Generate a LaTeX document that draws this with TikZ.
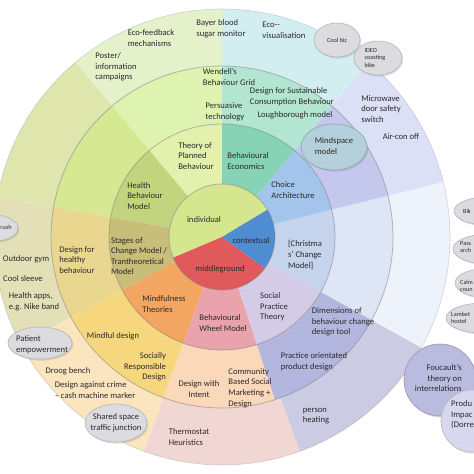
\documentclass[tikz,border=0pt]{standalone}
\usepackage{fontspec}
\setmainfont{Carlito}
\usetikzlibrary{shapes.geometric,shadows}
\definecolor{txt}{HTML}{2A2A2A}
\definecolor{cInd}{HTML}{D5E68E}
\definecolor{cCon}{HTML}{4F8CD2}
\definecolor{cMid}{HTML}{E05A5C}
\definecolor{ra1}{HTML}{E3F0AE}
\definecolor{ra2}{HTML}{C2D47E}
\definecolor{ra3}{HTML}{C9BD7A}
\definecolor{ra4}{HTML}{F3A562}
\definecolor{ra5}{HTML}{E9A3AC}
\definecolor{ra6}{HTML}{D4CBE6}
\definecolor{ra7}{HTML}{C5D4EC}
\definecolor{ra8}{HTML}{A3C5EB}
\definecolor{ra9}{HTML}{86D3B5}
\definecolor{rb1}{HTML}{DFF3B0}
\definecolor{rb2}{HTML}{D6E891}
\definecolor{rb3}{HTML}{EAD78F}
\definecolor{rb4}{HTML}{F7D77E}
\definecolor{rb5}{HTML}{FAD8B9}
\definecolor{rb6}{HTML}{B3B7DF}
\definecolor{rb7}{HTML}{DEE6F5}
\definecolor{rb8}{HTML}{C3C8EC}
\definecolor{rb9}{HTML}{B2E6D2}
\definecolor{rc1}{HTML}{E5F1CB}
\definecolor{rc2}{HTML}{DEE5AD}
\definecolor{rc3}{HTML}{E3DFB7}
\definecolor{rc4}{HTML}{FAE5BF}
\definecolor{rc5}{HTML}{F1D7D3}
\definecolor{rc6}{HTML}{CBCBE3}
\definecolor{rc7}{HTML}{EEF3FB}
\definecolor{rc8}{HTML}{DBE0F6}
\definecolor{rc9}{HTML}{D3EEF0}
\definecolor{bubfill}{HTML}{DCDCE0}
\definecolor{bubedge}{HTML}{B4B4BA}
\definecolor{mindfill}{HTML}{B4D0DA}
\definecolor{mindedge}{HTML}{8EA4B4}
\definecolor{foufill}{HTML}{B9BCDF}
\definecolor{prodfill}{HTML}{D7D7ED}
\newcommand\annsec[5]{%
  \fill[#1, shift={(222,237)}] ({-(#4)}:#2) arc[start angle={-(#4)}, end angle={-(#5)}, radius=#2]
    -- ({-(#5)}:#3) arc[start angle={-(#5)}, end angle={-(#4)}, radius=#3] -- cycle;}
\newcommand\piesec[4]{%
  \fill[#1, shift={(222,237)}] (0,0) -- ({-(#3)}:#2) arc[start angle={-(#3)}, end angle={-(#4)}, radius=#2] -- cycle;}
\begin{document}
\begin{tikzpicture}[x=1pt,y=-1pt,
  lbl/.style={font=\fontsize{8.6}{10.6}\selectfont, text=txt, inner sep=0pt, align=left},
  sml/.style={font=\fontsize{6.2}{7.6}\selectfont, text=txt, inner sep=0pt, align=left},
  bub/.style={ellipse, draw=bubedge, fill=bubfill, line width=0.6pt, inner sep=0pt,
    drop shadow={shadow xshift=1.2pt, shadow yshift=-1.6pt, opacity=0.25}},
  ringline/.style={line width=0.8pt, draw=gray, opacity=0.55}]
\useasboundingbox (0,0) rectangle (474,474);
\fill[white] (0,0) rectangle (474,474);
% outer ring
\annsec{rc1}{171}{228}{90}{130}
\annsec{rc2}{171}{228}{130}{170}
\annsec{rc3}{171}{228}{170}{208}
\annsec{rc4}{171}{228}{208}{250}
\annsec{rc5}{171}{228}{250}{290}
\annsec{rc6}{171}{228}{290}{331}
\annsec{rc7}{171}{228}{331}{374}
\annsec{rc8}{171}{228}{14}{50}
\annsec{rc9}{171}{228}{50}{90}
% middle ring
\annsec{rb1}{113}{171}{90}{130}
\annsec{rb2}{113}{171}{130}{170}
\annsec{rb3}{113}{171}{170}{208}
\annsec{rb4}{113}{171}{208}{250}
\annsec{rb5}{113}{171}{250}{288}
\annsec{rb6}{113}{171}{288}{331}
\annsec{rb7}{113}{171}{331}{374}
\annsec{rb8}{113}{171}{14}{50}
\annsec{rb9}{113}{171}{50}{90}
% inner ring
\annsec{ra1}{53}{113}{90}{130}
\annsec{ra2}{53}{113}{130}{170}
\annsec{ra3}{53}{113}{170}{208}
\annsec{ra4}{53}{113}{208}{250}
\annsec{ra5}{53}{113}{250}{288}
\annsec{ra6}{53}{113}{288}{331}
\annsec{ra7}{53}{113}{331}{374}
\annsec{ra8}{53}{113}{14}{50}
\annsec{ra9}{53}{113}{50}{90}
% core
\piesec{cInd}{53}{31}{203}
\piesec{cMid}{53}{203}{324}
\piesec{cCon}{53}{324}{391}
% ring lines
\draw[ringline] (222,237) circle[radius=53];
\draw[ringline] (222,237) circle[radius=113];
\draw[ringline] (222,237) circle[radius=171];
\draw[line width=0.6pt, draw=gray, opacity=0.3] (222,237) circle[radius=228];
% bubbles
\node[bub, minimum width=48pt, minimum height=26pt] (rushE) at (-6,228) {};
\node[bub, minimum width=46pt, minimum height=34pt] (coolE) at (337,40) {};
\node[bub, minimum width=48pt, minimum height=34pt] (ideoE) at (378,58) {};
\node[bub, fill=mindfill, draw=mindedge, minimum width=66pt, minimum height=46pt] (mindE) at (334,147) {};
\node[bub, minimum width=64pt, minimum height=32pt] (patE) at (40,343) {};
\node[bub, minimum width=62pt, minimum height=38pt] (shareE) at (116,423) {};
\node[bub, minimum width=68pt, minimum height=28pt] (bikE) at (488,211) {};
\node[bub, minimum width=66pt, minimum height=29pt] (passE) at (486,249) {};
\node[bub, minimum width=64pt, minimum height=29pt] (calmE) at (487,283) {};
\node[bub, minimum width=76pt, minimum height=30pt] (lambE) at (484,318) {};
\node[bub, circle, fill=foufill, draw=foufill!80!black, minimum size=72pt] (fouC) at (440,380) {};
\node[bub, circle, fill=prodfill, draw=prodfill!85!black, minimum size=62pt] (prodC) at (472,421) {};
% core labels
\node[lbl] (lInd) at (204,220) {individual};
\node[lbl] (lCon) at (251,241) {contextual};
\node[lbl] (lMid) at (220,269) {middleground};
% inner ring labels
\node[lbl] (tpb) at (196,156) {Theory of\\Planned\\Behaviour};
\node[lbl] (beco) at (248,161) {Behavioural\\Economics};
\node[lbl] (choice) at (293,190) {Choice\\Architecture};
\node[lbl] (xmas) at (305,255) {[Christma\\s' Change\\Model]};
\node[lbl] (spt) at (274,307) {Social\\Practice\\Theory};
\node[lbl] (bwm) at (223,323) {Behavioural\\Wheel Model};
\node[lbl] (mind) at (164,304) {Mindfulness\\Theories};
\node[lbl] (stages) at (139,256) {Stages of\\Change Model /\\Trantheoretical\\Model};
\node[lbl] (hbm) at (145,196) {Health\\Behaviour\\Model};
% middle ring labels
\node[lbl] (wend) at (229,77) {Wendell's\\Behaviour Grid};
\node[lbl] (dscb) at (292,97) {Design for Sustainable\\Consumption Behaviour};
\node[lbl] (pers) at (225,112) {Persuasive\\technology};
\node[lbl] (lough) at (295,115) {Loughborough model};
\node[lbl] (mindsp) at (334,146) {Mindspace\\model};
\node[lbl] (dim) at (343,322) {Dimensions of\\behaviour change\\design tool};
\node[lbl] (pod) at (314,362) {Practice orientated\\product design};
\node[lbl] (cbsm) at (250,388) {Community\\Based Social\\Marketing +\\Design};
\node[lbl, align=center] (dwi) at (199,389) {Design with\\Intent};
\node[lbl, align=right] (srd) at (145,367) {Socially\\Responsible\\Design};
\node[lbl] (mdes) at (113,336) {Mindful design};
\node[lbl] (dhb) at (77,260) {Design for\\healthy\\behaviour};
% outer ring labels
\node[lbl] (ecofb) at (151,38) {Eco-feedback\\mechanisms};
\node[lbl] (bayer) at (221,29) {Bayer blood\\sugar monitor};
\node[lbl] (poster) at (116,67) {Poster/\\information\\campaigns};
\node[lbl] (ecovis) at (284,30) {Eco-{}-\\visualisation};
\node[lbl] (micro) at (381,109) {Microwave\\door safety\\switch};
\node[lbl] (aircon) at (401,137) {Air-con off};
\node[lbl] (person) at (316,416) {person\\heating};
\node[lbl] (thermo) at (189,437) {Thermostat\\Heuristics};
\node[lbl] (droog) at (68,371) {Droog bench};
\node[lbl] (dac) at (95,390) {Design against crime\\-- cash machine marker};
\node[lbl] (gym) at (26,259) {Outdoor gym};
\node[lbl] (sleeve) at (23,279) {Cool sleeve};
\node[lbl] (apps) at (34,302) {Health apps,\\e.g. Nike band};
% bubble labels
\node[sml] (lrush) at (6,227) {rush};
\node[sml] (lcool) at (337,40) {Cool biz};
\node[sml] (lideo) at (375,58) {IDEO\\coasting\\bike};
\node[lbl] (lpat) at (42,345) {Patient\\empowerment};
\node[lbl, align=center] (lshare) at (116,423) {Shared space\\traffic junction};
\node[sml, anchor=west] (lbik) at (463,211) {Bik};
\node[sml, anchor=west] (lpass) at (460,247) {Pass\\arch};
\node[sml, anchor=west] (lcalm) at (460,286) {Calm\\coun};
\node[sml, anchor=west] (llamb) at (451,318) {Lambet\\hostel};
\node[lbl, align=right, anchor=east] (lfou) at (462,378) {Foucault's\\theory on\\interrelations};
\node[lbl, anchor=west] (lprod) at (451,415) {Produ\\Impac\\(Dorre};
\end{tikzpicture}
\end{document}
